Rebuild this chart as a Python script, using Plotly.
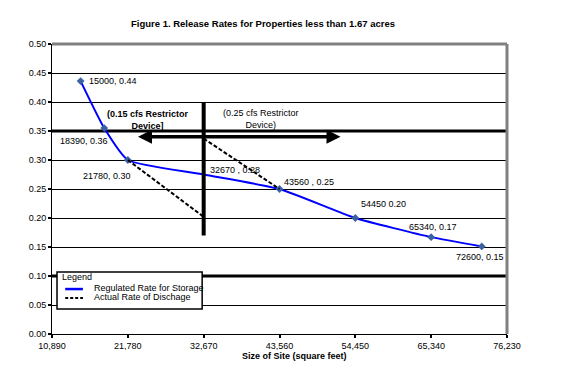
import plotly.graph_objects as go

# ---- data ----
site_size = [15000, 18390, 21780, 32670, 43560, 54450, 65340, 72600]
regulated_rate = [0.436, 0.355, 0.300, 0.275, 0.250, 0.200, 0.167, 0.151]
point_labels = ["15000, 0.44", "18390, 0.36", "21780, 0.30", "32670 , 0.28",
                "43560 , 0.25", "54450 0.20", "65340, 0.17", "72600, 0.15"]
marker_points = [True, True, True, False, True, True, True, True]

actual_seg1_x = [21780, 32670]
actual_seg1_y = [0.300, 0.202]
actual_seg2_x = [32670, 43560]
actual_seg2_y = [0.337, 0.250]

x_ticks = [10890, 21780, 32670, 43560, 54450, 65340, 76230]
y_ticks = [0.00, 0.05, 0.10, 0.15, 0.20, 0.25, 0.30, 0.35, 0.40, 0.45, 0.50]

divider_x = 32670
divider_y = [0.17, 0.40]
arrow_y = 0.340
arrow_x = [23240, 52535]
thick_grid = [0.10, 0.35]

series_names = ["Regulated Rate for Storage", "Actual Rate of Dischage"]

FONT = "Liberation Sans, Arial, sans-serif"
PAGE_OFFSET = 8  # default body margin of the html page

fig = go.Figure()

fig.add_trace(go.Scatter(
    x=site_size, y=regulated_rate, mode="lines",
    line=dict(color="#0000ff", width=2, shape="spline", smoothing=0.5),
    name=series_names[0], showlegend=False))
fig.add_trace(go.Scatter(
    x=[x for x, m in zip(site_size, marker_points) if m],
    y=[y for y, m in zip(regulated_rate, marker_points) if m],
    mode="markers", marker=dict(symbol="diamond", size=6, color="#3a62a0"),
    showlegend=False, hoverinfo="skip"))
fig.add_trace(go.Scatter(
    x=actual_seg1_x, y=actual_seg1_y, mode="lines",
    line=dict(color="black", width=2, dash="4px,2px"),
    name=series_names[1], showlegend=False))
fig.add_trace(go.Scatter(
    x=actual_seg2_x, y=actual_seg2_y, mode="lines",
    line=dict(color="black", width=2, dash="4px,2px"),
    name=series_names[1], showlegend=False))

shapes = []
for gy in thick_grid:
    shapes.append(dict(type="line", xref="paper", x0=0, x1=1, yref="y", y0=gy, y1=gy,
                       line=dict(color="black", width=3), layer="below"))
# gray frame top/right
shapes.append(dict(type="line", xref="paper", x0=0, x1=1, yref="paper", y0=1, y1=1,
                   line=dict(color="#808080", width=3)))
shapes.append(dict(type="line", xref="paper", x0=1, x1=1, yref="paper", y0=0, y1=1,
                   line=dict(color="#808080", width=3)))
# vertical divider
shapes.append(dict(type="line", xref="x", x0=divider_x, x1=divider_x, yref="y",
                   y0=divider_y[0], y1=divider_y[1], line=dict(color="black", width=4)))

# manual legend box
shapes.append(dict(type="rect", xref="paper", yref="paper", x0=0.011, x1=0.33,
                   y0=0.086, y1=0.214, fillcolor="white",
                   line=dict(color="black", width=1.5)))
shapes.append(dict(type="line", xref="paper", yref="paper", x0=0.029, x1=0.068,
                   y0=0.155, y1=0.155, line=dict(color="#0000ff", width=2.5)))
shapes.append(dict(type="line", xref="paper", yref="paper", x0=0.029, x1=0.068,
                   y0=0.124, y1=0.124, line=dict(color="black", width=2, dash="3px,2px")))

annotations = []
offsets = [(6, 0, "left"), (-20, -13, "center"), (-21, -16, "center"), (4, 5, "left"),
           (2, 7, "left"), (4, 14, "left"), (2, 10, "center"), (-2, -11, "center")]
for x, y, t, (dx, dy, xa) in zip(site_size, regulated_rate, point_labels, offsets):
    annotations.append(dict(x=x, y=y, xref="x", yref="y", text=t, showarrow=False,
                            xanchor=xa, yanchor="middle", xshift=dx, yshift=dy,
                            font=dict(family=FONT, size=9, color="black")))
note_texts = [("<b>(0.15 cfs Restrictor<br>Device]</b>", 24676, 0.369),
              ("(0.25 cfs Restrictor<br>Device)", 40903, 0.370)]
for t, x, y in note_texts:
    annotations.append(dict(x=x, y=y, xref="x", yref="y", text=t, showarrow=False,
                            yanchor="middle", borderpad=0,
                            font=dict(family=FONT, size=9, color="black")))
annotations.append(dict(x=arrow_x[0], y=arrow_y, ax=arrow_x[1], ay=arrow_y,
                        xref="x", yref="y", axref="x", ayref="y", text="",
                        showarrow=True, arrowhead=2, arrowside="end+start",
                        arrowwidth=3.5, arrowsize=0.8, arrowcolor="black"))
annotations.append(dict(x=0.534, y=-0.1, xref="paper", yref="paper",
                        text="<b>Size of Site (square feet)</b>", showarrow=False,
                        font=dict(family=FONT, size=9, color="black")))
# legend texts
annotations.append(dict(x=0.017, y=0.197, xref="paper", yref="paper", text="Legend",
                        showarrow=False, xanchor="left", yanchor="middle",
                        font=dict(family=FONT, size=9, color="black")))
annotations.append(dict(x=0.088, y=0.158, xref="paper", yref="paper", text=series_names[0],
                        showarrow=False, xanchor="left", yanchor="middle",
                        font=dict(family=FONT, size=9, color="black")))
annotations.append(dict(x=0.088, y=0.127, xref="paper", yref="paper", text=series_names[1],
                        showarrow=False, xanchor="left", yanchor="middle",
                        font=dict(family=FONT, size=9, color="black")))

fig.update_layout(
    width=562, height=392,
    margin=dict(l=52 - PAGE_OFFSET, r=55 + PAGE_OFFSET,
                t=44 - PAGE_OFFSET, b=58 + PAGE_OFFSET),
    paper_bgcolor="white", plot_bgcolor="white",
    title=dict(text="<b>Figure 1. Release Rates for Properties less than 1.67 acres</b>",
               x=(263 - PAGE_OFFSET) / 562, xanchor="center",
               y=1 - (24 - PAGE_OFFSET) / 392, yanchor="middle",
               font=dict(family=FONT, size=9.5, color="black")),
    xaxis=dict(range=[10890, 76230], tickvals=x_ticks, tickformat=",d",
               showgrid=False, zeroline=False, showline=True, linecolor="black",
               linewidth=1, ticks="outside", ticklen=3, tickwidth=2, tickcolor="black",
               tickfont=dict(family=FONT, size=9, color="black")),
    yaxis=dict(range=[0, 0.5], tickvals=y_ticks, tickformat=".2f",
               showgrid=True, gridcolor="black", gridwidth=1, zeroline=False,
               showline=True, linecolor="black", linewidth=1,
               ticks="outside", ticklen=3, tickwidth=2, tickcolor="black",
               tickfont=dict(family=FONT, size=9, color="black")),
    shapes=shapes, annotations=annotations,
    showlegend=False,
)

fig.write_html("out.html")
